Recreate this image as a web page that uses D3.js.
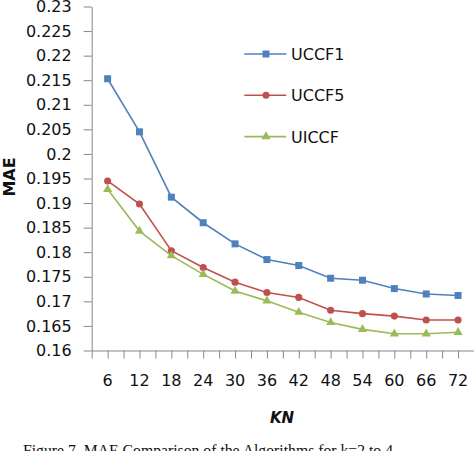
<!DOCTYPE html>
<html>
<head>
<meta charset="utf-8">
<script src="https://cdn.jsdelivr.net/npm/d3@7"></script>
<style>
  html, body { margin: 0; padding: 0; background: #fff; }
  svg { display: block; }
  text { font-family: "DejaVu Sans", sans-serif; fill: #111; }
</style>
</head>
<body>
<svg id="chart" width="474" height="451"></svg>
<script>
const categories = [6, 12, 18, 24, 30, 36, 42, 48, 54, 60, 66, 72];
const seriesNames = ["UCCF1", "UCCF5", "UICCF"];
const uccf1 = [0.2153, 0.2045, 0.1912, 0.1860, 0.1817, 0.1785, 0.1773, 0.1747, 0.1743, 0.1726, 0.1715, 0.1712];
const uccf5 = [0.1945, 0.1898, 0.1803, 0.1769, 0.1739, 0.1718, 0.1708, 0.1682, 0.1675, 0.1670, 0.1662, 0.1662];
const uiccf = [0.1928, 0.1843, 0.1793, 0.1755, 0.1721, 0.1701, 0.1678, 0.1657, 0.1643, 0.1634, 0.1634, 0.1637];
const yTickValues = [0.16, 0.165, 0.17, 0.175, 0.18, 0.185, 0.19, 0.195, 0.2, 0.205, 0.21, 0.215, 0.22, 0.225, 0.23];
const yTickLabels = ["0.16", "0.165", "0.17", "0.175", "0.18", "0.185", "0.19", "0.195", "0.2", "0.205", "0.21", "0.215", "0.22", "0.225", "0.23"];
const yAxisTitle = "MAE";
const xAxisTitle = "KN";
const caption = "Figure 7. MAE Comparison of the Algorithms for k=2 to 4";

(function () {
const series = [
  { name: seriesNames[0], values: uccf1, color: "#4F81BD", marker: "square" },
  { name: seriesNames[1], values: uccf5, color: "#C0504D", marker: "circle" },
  { name: seriesNames[2], values: uiccf, color: "#9BBB59", marker: "triangle" }
];

const svg = d3.select("#chart");
const mLeft = 91.7, mRight = 474, mTop = 6.5, mBottom = 350.5;

const x = d3.scaleBand().domain(categories).range([mLeft, mRight]).padding(0);
const cx = d => x(d) + x.bandwidth() / 2;
const xTickScale = d3.scaleLinear().domain([0, categories.length]).range([mLeft, mRight]);
const y = d3.scaleLinear().domain([0.16, 0.23]).range([mBottom, mTop]);

const axisColor = "#868686";

// Y axis
const yAxis = svg.append("g").attr("transform", `translate(${mLeft},0)`)
  .call(d3.axisLeft(y).tickValues(yTickValues).tickSize(8).tickSizeOuter(0).tickPadding(12)
    .tickFormat((d, i) => yTickLabels[i]));
yAxis.selectAll("path, line").attr("stroke", axisColor);
yAxis.selectAll("text").attr("font-size", 16).attr("fill", "#111");

// X axis ticks (at every half category)
const xAxis = svg.append("g").attr("transform", `translate(0,${mBottom})`)
  .call(d3.axisBottom(xTickScale).tickValues(d3.range(0, categories.length + 0.01, 0.5))
    .tickSize(8).tickSizeOuter(0).tickFormat(""));
xAxis.selectAll("path, line").attr("stroke", axisColor);

// X category labels
const xLabels = svg.append("g").attr("transform", `translate(0,${mBottom})`)
  .call(d3.axisBottom(x).tickSize(0).tickPadding(24));
xLabels.select("path").remove();
xLabels.selectAll("text").attr("font-size", 16).attr("fill", "#111");

// Lines and markers
const line = d3.line().x((d, i) => cx(categories[i])).y(d => y(d));
const sym = { square: d3.symbolSquare, circle: d3.symbolCircle, triangle: d3.symbolTriangle };
const symSize = { square: 49, circle: 40, triangle: 36 };

series.forEach(s => {
  svg.append("path").datum(s.values)
    .attr("d", line).attr("fill", "none").attr("stroke", s.color).attr("stroke-width", 1.6);
  svg.append("g").selectAll("path").data(s.values).join("path")
    .attr("transform", (d, i) => `translate(${cx(categories[i])},${y(d)})`)
    .attr("d", d3.symbol().type(sym[s.marker]).size(symSize[s.marker]))
    .attr("fill", s.color);
});

// Legend
const legend = svg.append("g");
series.forEach((s, i) => {
  const ly = 54 + i * 41.3;
  legend.append("line").attr("x1", 244.3).attr("x2", 286.3).attr("y1", ly).attr("y2", ly)
    .attr("stroke", s.color).attr("stroke-width", 1.6);
  legend.append("path").attr("transform", `translate(266,${ly})`)
    .attr("d", d3.symbol().type(sym[s.marker]).size(symSize[s.marker])).attr("fill", s.color);
  legend.append("text").attr("x", 291).attr("y", ly + 6).attr("font-size", 16).text(s.name);
});

// Axis titles
svg.append("text").attr("transform", "translate(15,177) rotate(-90)")
  .attr("text-anchor", "middle").attr("font-weight", "bold").attr("font-size", 16).text(yAxisTitle);
svg.append("text").attr("x", 282).attr("y", 423).attr("text-anchor", "middle")
  .attr("font-weight", "bold").attr("font-style", "italic").attr("font-size", 15).text(xAxisTitle);

// Caption (cut off at bottom edge, as in the reference)
svg.append("text").attr("x", 23).attr("y", 456)
  .style("font-family", "'Liberation Serif', serif")
  .attr("font-size", 17).attr("textLength", 370).attr("lengthAdjust", "spacingAndGlyphs").text(caption);
})();
</script>
</body>
</html>
